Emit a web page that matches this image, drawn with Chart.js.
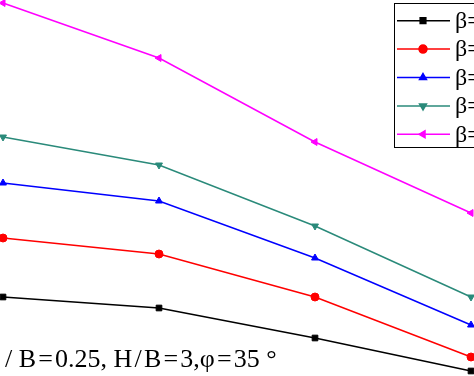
<!DOCTYPE html>
<html>
<head>
<meta charset="utf-8">
<script src="https://cdn.jsdelivr.net/npm/chart.js@4/dist/chart.umd.min.js"></script>
<style>
  html, body { margin: 0; padding: 0; background: #fff; }
  #wrap { width: 474px; height: 376px; }
</style>
</head>
<body>
<div id="wrap"><canvas id="chart"></canvas></div>
<script>
const xValues = [1, 2, 3, 4];
const seriesLabels = ['β=0.1', 'β=0.2', 'β=0.3', 'β=0.4', 'β=0.5'];
const black = [0.79, 0.68, 0.38, 0.05];
const red = [1.38, 1.22, 0.79, 0.19];
const blue = [1.93, 1.75, 1.18, 0.51];
const teal = [2.39, 2.11, 1.50, 0.79];
const magenta = [3.73, 3.18, 2.34, 1.63];
// caption, hair spaces keep the tight look of the original
const note = '/ B\u200A=\u200A0.25, H\u200A/\u200AB\u200A=\u200A3,φ\u200A=\u200A35 °';

const colors = ['#000000', '#ff0000', '#0000ff', '#2a8a7a', '#ff00ff'];
const markers = ['rect', 'circle', 'triangle', 'triangle', 'triangle'];
const rotations = [0, 0, 0, 180, 270];
const allSeries = [black, red, blue, teal, magenta];

const datasets = allSeries.map((vals, i) => ({
    label: seriesLabels[i],
    data: vals.map((v, j) => ({ x: xValues[j], y: v })),
    borderColor: colors[i],
    backgroundColor: colors[i],
    borderWidth: 1.5,
    pointStyle: markers[i],
    pointRotation: rotations[i],
    pointRadius: 4,
    pointBorderWidth: 1,
    clip: false,
    tension: 0
}));

// legend box + note drawn by hand so it can sit where the original does
const extras = {
    id: 'extras',
    afterDraw(chart) {
        const ctx = chart.ctx;
        ctx.save();
        ctx.strokeStyle = '#000';
        ctx.lineWidth = 1;
        ctx.strokeRect(394.5, 3.5, 100, 144);
        chart.data.datasets.forEach((ds, i) => {
            const y = 20.7 + i * 28.4;
            ctx.strokeStyle = ds.borderColor;
            ctx.lineWidth = 1.5;
            ctx.beginPath();
            ctx.moveTo(397, y);
            ctx.lineTo(450, y);
            ctx.stroke();
            Chart.helpers.drawPoint(ctx, {
                pointStyle: ds.pointStyle,
                rotation: ds.pointRotation,
                radius: 4,
                borderWidth: 1
            }, 423, y);
            ctx.fillStyle = ds.borderColor;
            ctx.fill();
            ctx.fillStyle = '#000';
            ctx.font = '24px "Liberation Serif", serif';
            ctx.textBaseline = 'middle';
            ctx.fillText(ds.label, 455, y + 1);
        });
        ctx.fillStyle = '#000';
        ctx.textBaseline = 'alphabetic';
        ctx.font = '26px "Liberation Serif", serif';
        ctx.fillText(note, 5, 367);
        ctx.restore();
    }
};

new Chart(document.getElementById('chart'), {
    type: 'line',
    data: { datasets },
    options: {
        responsive: true,
        maintainAspectRatio: false,
        animation: false,
        layout: { padding: 0, autoPadding: false },
        plugins: { legend: { display: false }, tooltip: { enabled: false } },
        scales: {
            x: { type: 'linear', display: false, min: 1 - 3 / 156, max: 4 + 3 / 156 },
            y: { type: 'linear', display: false, min: 0, max: 3.76 }
        }
    },
    plugins: [extras]
});
</script>
</body>
</html>
